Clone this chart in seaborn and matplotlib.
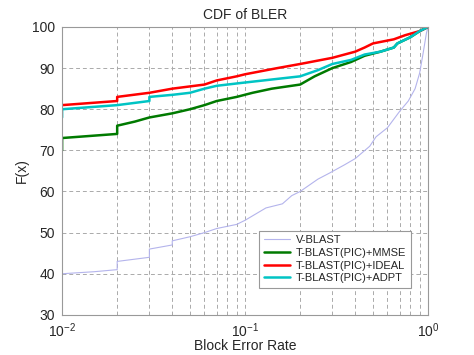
import pandas as pd
import matplotlib
matplotlib.use("Agg")
import matplotlib.pyplot as plt
import seaborn as sns

# Data
vblast_x = [0.01, 0.015, 0.02, 0.02, 0.03, 0.03, 0.04, 0.04, 0.05, 0.06, 0.07, 0.09, 0.1,
            0.13, 0.16, 0.18, 0.2, 0.25, 0.29, 0.35, 0.4, 0.48, 0.52, 0.6, 0.7, 0.78,
            0.85, 0.9, 0.94, 0.98, 1.0]
vblast_y = [40, 40.5, 41, 43, 44, 46, 47, 48, 49, 50, 51, 52, 53,
            56, 57, 59, 60, 63, 64.5, 66.5, 68, 71, 73.3, 75.5, 79.5, 82,
            85, 88.8, 93.6, 98.5, 100]

mmse_x = [0.01, 0.01, 0.02, 0.02, 0.025, 0.03, 0.04, 0.05, 0.06, 0.07, 0.09, 0.11, 0.14,
          0.2, 0.24, 0.3, 0.38, 0.45, 0.55, 0.65, 0.68, 0.8, 0.9, 1.0]
mmse_y = [70, 73, 74, 76, 77, 78, 79, 80, 81, 82, 83, 84, 85,
          86, 88, 90, 91.5, 93, 94, 95, 96, 97.5, 99, 100]

ideal_x = [0.01, 0.02, 0.02, 0.03, 0.04, 0.06, 0.07, 0.09, 0.1, 0.15, 0.2, 0.3, 0.4,
           0.45, 0.5, 0.65, 0.75, 0.9, 1.0]
ideal_y = [81, 82, 83, 84, 85, 86, 87, 88, 88.5, 90, 91, 92.5, 94,
           95, 96, 97, 98, 99, 100]

adpt_x = [0.01, 0.01, 0.02, 0.03, 0.03, 0.04, 0.05, 0.06, 0.07, 0.08, 0.1, 0.2, 0.25,
          0.3, 0.38, 0.45, 0.55, 0.65, 0.68, 0.8, 0.9, 1.0]
adpt_y = [78, 80, 81, 82, 83, 83.5, 84, 85, 85.7, 86, 86.5, 88, 89.5,
          91, 92, 93.3, 94, 95, 96, 97.5, 99, 100]

series_names = ["V-BLAST", "T-BLAST(PIC)+MMSE", "T-BLAST(PIC)+IDEAL", "T-BLAST(PIC)+ADPT"]
series_colors = ["#b4b4ec", "#007a00", "#ff0000", "#00c4c4"]
series_widths = [0.8, 1.8, 1.8, 1.8]

frames = []
for name, xs, ys in zip(series_names,
                        [vblast_x, mmse_x, ideal_x, adpt_x],
                        [vblast_y, mmse_y, ideal_y, adpt_y]):
    frames.append(pd.DataFrame({"ber": xs, "cdf": ys, "series": name}))
df = pd.concat(frames, ignore_index=True)

sns.set_style("white")
plt.rcParams['font.family'] = ['Liberation Sans', 'DejaVu Sans']

fig = plt.figure(figsize=(4.74, 3.55), dpi=100)
ax = fig.add_axes([0.131, 0.113, 0.772, 0.811])

for name, color, lw in zip(series_names, series_colors, series_widths):
    sns.lineplot(data=df[df["series"] == name], x="ber", y="cdf",
                 estimator=None, sort=False, color=color, linewidth=lw,
                 label=name, ax=ax)

ax.set_xscale("log")
ax.set_xlim(0.01, 1)
ax.set_ylim(30, 100)
ax.set_yticks(range(30, 101, 10))

ax.grid(True, which="major", linestyle=(0, (4, 3)), color="#aaaaaa", linewidth=0.7)
ax.grid(True, which="minor", axis="x", linestyle=(0, (4, 3)), color="#aaaaaa", linewidth=0.7)
ax.tick_params(which="both", direction="in", labelsize=10, color="#888888")
ax.tick_params(which="major", length=4)
ax.tick_params(which="minor", length=2)
ax.tick_params(axis="x", which="major", pad=5)
ax.tick_params(axis="y", which="major", pad=5)
for sp in ax.spines.values():
    sp.set_color("#999999")
    sp.set_linewidth(0.8)

ax.set_title("CDF of BLER", fontsize=10, pad=6)
ax.set_xlabel("Block Error Rate", fontsize=10)
ax.xaxis.set_label_coords(0.5, -0.085)
ax.set_ylabel("F(x)", fontsize=10, labelpad=2)

leg = ax.legend(loc="lower right", bbox_to_anchor=(0.968, 0.075), fontsize=8,
                frameon=True, fancybox=False, framealpha=1, edgecolor="#999999",
                handlelength=2.4, handletextpad=0.5, borderpad=0.4, labelspacing=0.25)
leg.get_frame().set_linewidth(0.8)

fig.savefig("out.png", dpi=100)
plt.close(fig)
